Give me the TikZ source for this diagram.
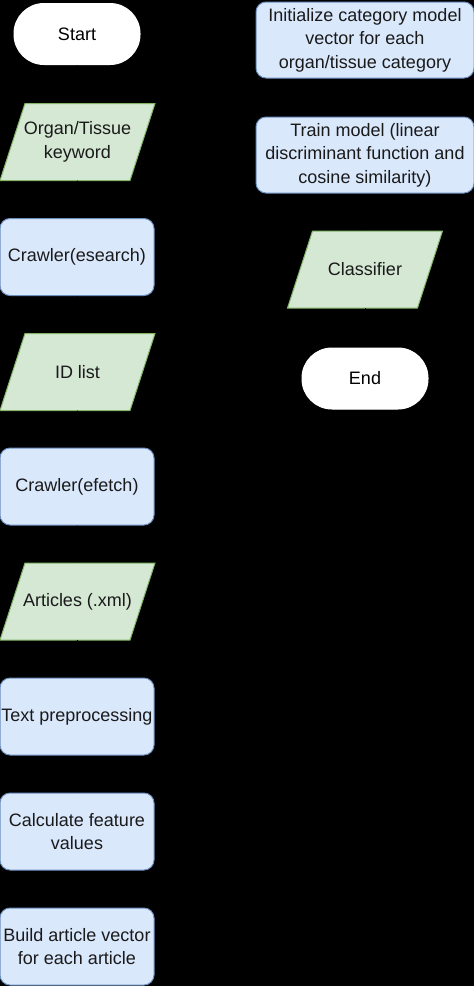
\documentclass[tikz,border=0pt]{standalone}
\usepackage{fontspec}
\setmainfont{Liberation Sans}
\usetikzlibrary{calc,arrows.meta}
\definecolor{bfill}{HTML}{DAE8FC}
\definecolor{bline}{HTML}{6C8EBF}
\definecolor{gfill}{HTML}{D5E8D4}
\definecolor{gline}{HTML}{82B366}
\definecolor{txt}{HTML}{1A1A1A}
\newcommand\iobox[4]{%
  \filldraw[gfill,draw=gline,line width=1pt]
    (#2-77.5,#3+38.5) -- (#2+52.5,#3+38.5) -- (#2+77.5,#3-38.5) -- (#2-52.5,#3-38.5) -- cycle;
  \node[txtnode] (#1) at (#2,#3) {#4};}
\begin{document}
\begin{tikzpicture}[x=1pt,y=-1pt,
  txtnode/.style={font=\fontsize{18}{23.5}\selectfont, align=center, inner sep=0pt, text=txt, minimum width=130pt, minimum height=77pt},
  proc/.style={txtnode, draw=bline, fill=bfill, rounded corners=10pt, line width=1pt, minimum width=154pt, minimum height=77pt},
  wproc/.style={proc, minimum width=218pt, minimum height=76pt},
  term/.style={txtnode, draw=white, fill=white, rounded corners=30pt, line width=1pt, minimum width=126pt, minimum height=61pt, text=black},
  conn/.style={draw=black, line width=1pt, -{Latex[length=6pt]}}]
\fill[black] (0,0) rectangle (474,986);
\useasboundingbox (0,0) rectangle (474,986);
% left column
\node[term] (start) at (77,34) {Start};
\iobox{kw}{77.5}{142}{Organ/Tissue\\keyword}
\node[proc] (esearch) at (77,257) {Crawler(esearch)};
\iobox{ids}{77.5}{372}{ID list}
\node[proc] (efetch) at (77,486.5) {Crawler(efetch)};
\iobox{art}{77.5}{601.5}{Articles (.xml)}
\node[proc] (pre) at (77,716.5) {Text preprocessing};
\node[proc] (feat) at (77,831.5) {Calculate feature\\values};
\node[proc] (build) at (77,946.5) {Build article vector\\for each article};
% right column
\node[wproc] (init) at (365,40) {Initialize category model\\vector for each\\organ/tissue category};
\node[wproc] (train) at (365,155) {Train model (linear\\discriminant function and\\cosine similarity)};
\iobox{cls}{365}{269.5}{Classifier}
\node[term] (end) at (365,378.5) {End};
% connectors (black on black, as in the reference)
\draw[conn] (start) -- (kw);
\draw[conn] (kw) -- (esearch);
\draw[conn] (esearch) -- (ids);
\draw[conn] (ids) -- (efetch);
\draw[conn] (efetch) -- (art);
\draw[conn] (art) -- (pre);
\draw[conn] (pre) -- (feat);
\draw[conn] (feat) -- (build);
\draw[conn] (init) -- (train);
\draw[conn] (train) -- (cls);
\draw[conn] (cls) -- (end);
\end{tikzpicture}
\end{document}
